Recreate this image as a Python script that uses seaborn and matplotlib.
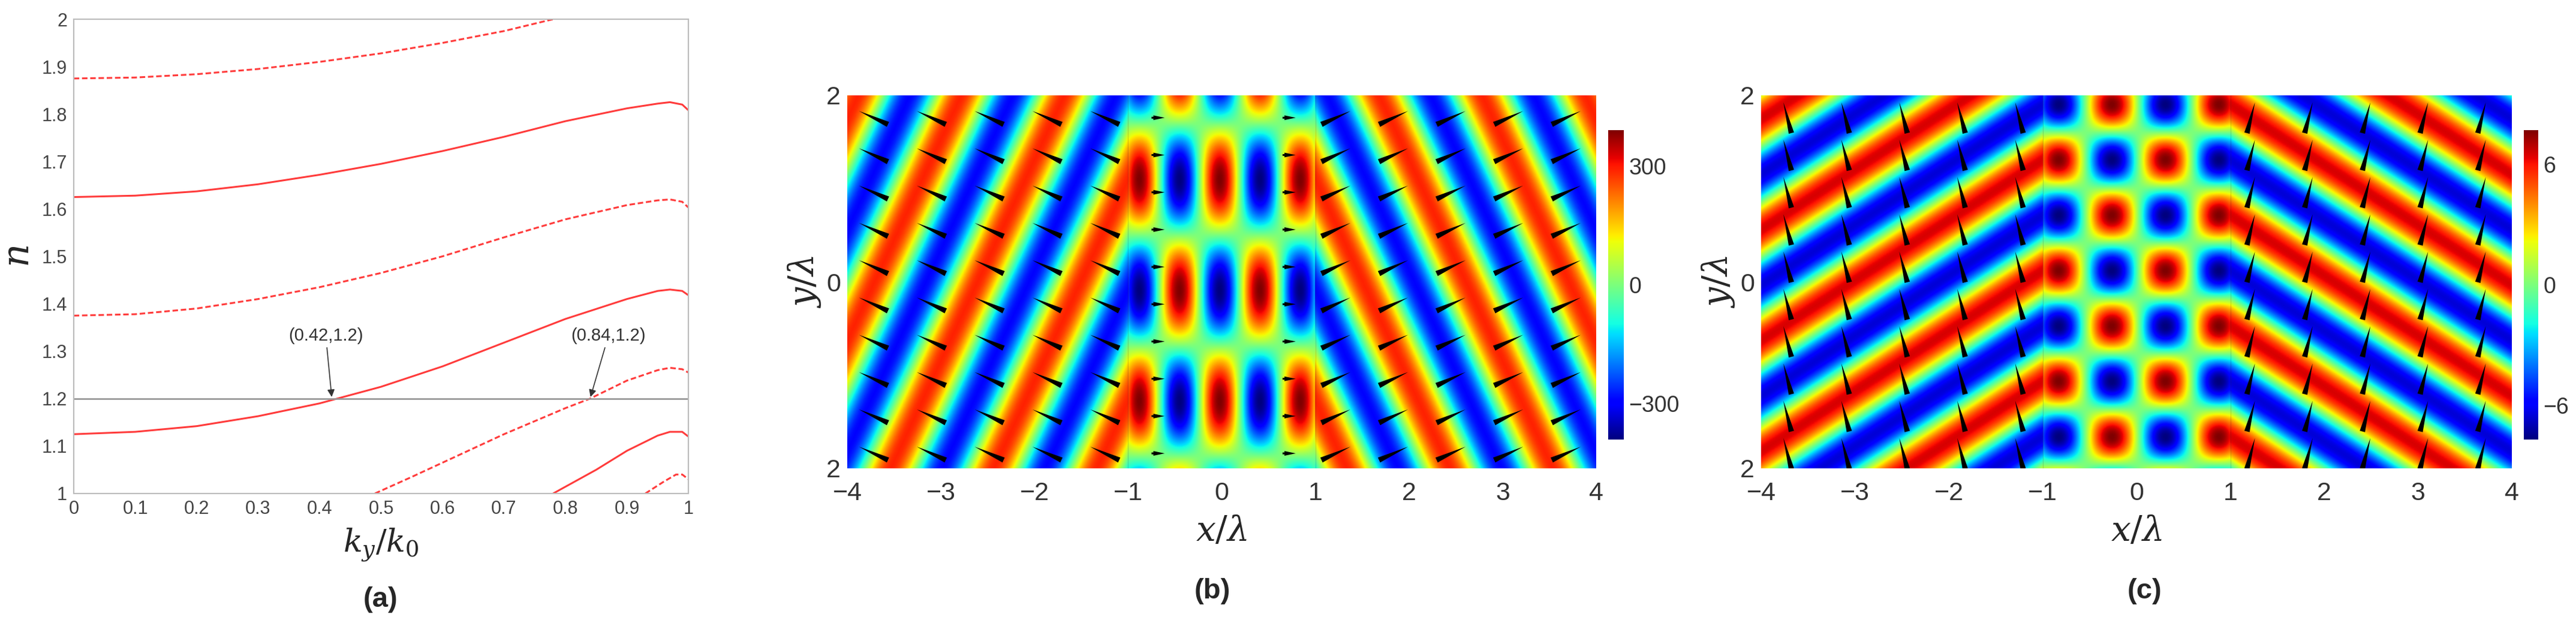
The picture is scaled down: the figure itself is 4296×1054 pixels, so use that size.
import numpy as np
import pandas as pd
import seaborn as sns
import matplotlib.pyplot as plt

sns.set_style('white')
plt.rcParams['font.family'] = ['Liberation Sans', 'DejaVu Sans']
plt.rcParams['mathtext.fontset'] = 'dejavuserif'

# ---- panel (a): dispersion curves
ky_s1 = [0, 0.1, 0.2, 0.3, 0.4, 0.5, 0.6, 0.7, 0.8, 0.9, 0.95, 0.97, 0.99, 1.0]
n_s1 = [1.625, 1.628, 1.637, 1.652, 1.672, 1.695, 1.722, 1.752, 1.785, 1.812, 1.822, 1.825, 1.82, 1.808]
ky_s2 = [0, 0.1, 0.2, 0.3, 0.4, 0.5, 0.6, 0.7, 0.8, 0.9, 0.95, 0.97, 0.99, 1.0]
n_s2 = [1.125, 1.13, 1.142, 1.163, 1.19, 1.225, 1.268, 1.318, 1.368, 1.41, 1.427, 1.43, 1.427, 1.418]
ky_s3 = [0.78, 0.85, 0.9, 0.95, 0.97, 0.99, 1.0]
n_s3 = [1.0, 1.05, 1.09, 1.122, 1.13, 1.13, 1.12]
ky_d1 = [0, 0.1, 0.2, 0.3, 0.4, 0.5, 0.6, 0.7, 0.78]
n_d1 = [1.875, 1.877, 1.884, 1.895, 1.91, 1.928, 1.95, 1.975, 2.0]
ky_d2 = [0, 0.1, 0.2, 0.3, 0.4, 0.5, 0.6, 0.7, 0.8, 0.9, 0.95, 0.97, 0.99, 1.0]
n_d2 = [1.375, 1.378, 1.39, 1.41, 1.435, 1.465, 1.5, 1.54, 1.578, 1.608, 1.618, 1.62, 1.615, 1.603]
ky_d3 = [0.49, 0.55, 0.6, 0.7, 0.8, 0.84, 0.9, 0.95, 0.97, 0.99, 1.0]
n_d3 = [1.0, 1.035, 1.065, 1.125, 1.18, 1.2, 1.238, 1.26, 1.265, 1.262, 1.255]
ky_d4 = [0.93, 0.96, 0.98, 0.99, 1.0]
n_d4 = [1.0, 1.025, 1.04, 1.04, 1.03]
n_ref = 1.2
marks = [(0.42, 1.2), (0.84, 1.2)]

# ---- panels (b),(c): field parameters
ky_b, ky_c = 0.42, 0.84
amp_out_b, amp_in_b, lim_b = 290, 390, 390
amp_out_c, amp_in_c, lim_c = 6.5, 7.7, 7.7
cb_ticks_b = [-300, 0, 300]
cb_ticks_c = [-6, 0, 6]
x_ticks = [-4, -3, -2, -1, 0, 1, 2, 3, 4]
y_ticks = [-2, 0, 2]
y_ticklabels = ['2', '0', '2']

W, H = 4296, 1054
fig = plt.figure(figsize=(W / 100, H / 100), dpi=100)


def px(l, t, w, h):
    return [l / W, 1 - (t + h) / H, w / W, h / H]


red = '#ff3b3b'
ax = fig.add_axes(px(123, 32, 1025, 791))
frames = []
for k, (kx_, nn) in enumerate([(ky_s1, n_s1), (ky_s2, n_s2), (ky_s3, n_s3),
                               (ky_d1, n_d1), (ky_d2, n_d2), (ky_d3, n_d3), (ky_d4, n_d4)]):
    frames.append(pd.DataFrame({'ky': kx_, 'n': nn, 'curve': k, 'kind': 'solid' if k < 3 else 'dash'}))
df = pd.concat(frames)
sns.lineplot(data=df, x='ky', y='n', units='curve', style='kind', estimator=None,
             color=red, lw=2.2, dashes={'solid': '', 'dash': (3, 1.5)}, legend=False, ax=ax)
ax.axhline(n_ref, color='#999999', lw=2)
ax.set_xlim(0, 1)
ax.set_ylim(1, 2)
ax.set_xticks(np.arange(0, 1.01, 0.1))
ax.set_xticklabels(['0'] + [f'{v:.1f}' for v in np.arange(0.1, 0.95, 0.1)] + ['1'])
ax.set_yticks(np.arange(1, 2.01, 0.1))
ax.set_yticklabels(['1'] + [f'{v:.1f}' for v in np.arange(1.1, 1.95, 0.1)] + ['2'])
ax.tick_params(direction='in', length=6, labelsize=22, colors='#444444', pad=8)
for s in ax.spines.values():
    s.set_color('#bbbbbb')
    s.set_linewidth(1.5)
ax.set_xlabel(r'$k_y/k_0$', fontsize=38, labelpad=10)
ax.set_ylabel(r'$n$', fontsize=44, labelpad=6)
for (mx, my), dx in zip(marks, [-0.01, 0.03]):
    ax.annotate(f'({mx},{my})', xy=(mx, my), xytext=(mx + dx, my + 0.115),
                ha='center', va='bottom', fontsize=21, color='#333333',
                arrowprops=dict(arrowstyle='-|>', color='#333333', lw=1.2, mutation_scale=18))
fig.text(635 / W, 1 - 1000 / H, '(a)', ha='center', va='center', fontsize=34, weight='bold')

x = np.linspace(-4, 4, 900)
y = np.linspace(-2, 2, 450)
X, Y = np.meshgrid(x, y)


def field(ky, amp_out, amp_in, x0, y0, half):
    k = 2 * np.pi * ky
    kx = 2 * np.pi * np.sqrt(1 - ky ** 2)
    kxc = np.pi / half
    c = amp_in * np.cos(kxc * (X - x0)) * np.cos(k * (Y - y0))
    left = amp_out * np.cos(kx * (X + 1) - k * (Y - y0)) * np.sign(np.cos(kxc * (-1 - x0)))
    right = amp_out * np.cos(kx * (X - 1) + k * (Y - y0)) * np.sign(np.cos(kxc * (1 - x0)))
    return np.where(X < -1, left, np.where(X > 1, right, c))


def draw_field(rect, crect, Z, lim, cticks, ldir, rdir, center_arrows, label, lx):
    ax = fig.add_axes(px(*rect))
    im = ax.imshow(Z, extent=[-4, 4, -2, 2], origin='lower', cmap='jet',
                   vmin=-lim, vmax=lim, aspect='auto', interpolation='bilinear')
    ax.axvline(-1, color='#333333', lw=0.6, alpha=0.25)
    ax.axvline(1, color='#333333', lw=0.6, alpha=0.25)
    ya = np.linspace(1.76, -1.84, 10)
    for xs, d in [(np.linspace(-3.72, -1.25, 5), ldir), (np.linspace(1.22, 3.68, 5), rdir)]:
        QX, QY = np.meshgrid(xs, ya)
        L = 0.34
        ax.quiver(QX, QY, np.full(QX.shape, d[0] * L), np.full(QX.shape, d[1] * L),
                  angles='xy', scale_units='xy', scale=1, pivot='middle', color='black',
                  width=0.0012, headwidth=6.5, headlength=38, headaxislength=38)
    if center_arrows:
        QX, QY = np.meshgrid([-0.68, 0.72], ya)
        ax.quiver(QX, QY, np.full(QX.shape, 0.14), np.zeros(QX.shape),
                  angles='xy', scale_units='xy', scale=1, pivot='middle', color='black',
                  width=0.0025, headwidth=2.5, headlength=6, headaxislength=6)
    ax.set_xlim(-4, 4)
    ax.set_ylim(-2, 2)
    ax.set_xticks(x_ticks)
    ax.set_yticks(y_ticks)
    ax.set_yticklabels(y_ticklabels)
    ax.tick_params(length=0, labelsize=31, colors='#333333', pad=8)
    ax.tick_params(axis='x', pad=16)
    for s in ax.spines.values():
        s.set_visible(False)
    ax.set_xlabel(r'$x/\lambda$', fontsize=42, labelpad=12)
    ax.set_ylabel(r'$y/\lambda$', fontsize=42, labelpad=4)
    cax = fig.add_axes(px(*crect))
    cb = fig.colorbar(im, cax=cax, ticks=cticks)
    cb.outline.set_visible(False)
    cax.tick_params(length=0, labelsize=27, colors='#333333', pad=6)
    fig.text(lx / W, 1 - 986 / H, label, ha='center', va='center', fontsize=34, weight='bold')


Zb = field(ky_b, amp_out_b, amp_in_b, -0.88, 1.1, 0.43)
draw_field((1413, 159, 1249, 622), (2682, 217, 26, 516), Zb, lim_b, cb_ticks_b,
           (-0.91, 0.42), (0.91, 0.42), True, '(b)', 2022)

Zc = field(ky_c, amp_out_c, amp_in_c, -0.83, 0.12, 0.57)
draw_field((2937, 159, 1252, 622), (4209, 217, 24, 516), Zc, lim_c, cb_ticks_c,
           (-0.25, 0.97), (0.25, 0.97), False, '(c)', 3576)

fig.savefig('out.png', dpi=100)
